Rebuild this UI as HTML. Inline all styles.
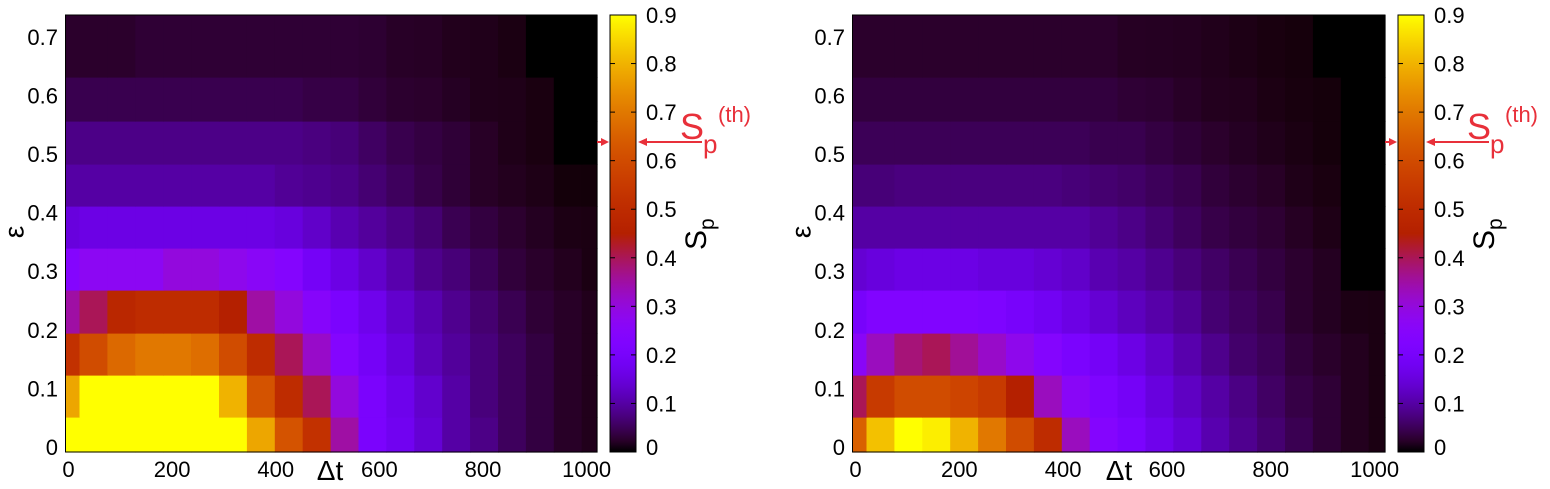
<!DOCTYPE html>
<html><head><meta charset="utf-8"><style>
html,body{margin:0;padding:0;background:#fff;width:1550px;height:489px;overflow:hidden}
svg text{font-family:"Liberation Sans",sans-serif;fill:#000}
</style></head><body>
<svg id="s" width="1550" height="489" xmlns="http://www.w3.org/2000/svg">
<defs>
<linearGradient id="cb" x1="0" y1="1" x2="0" y2="0">
</linearGradient>
</defs>
</svg>
<script>
function col(v){var x=Math.max(0,Math.min(1,v/0.9));var r=Math.sqrt(x),g=x*x*x,b=Math.max(0,Math.sin(2*Math.PI*x));
return 'rgb('+Math.round(r*255)+','+Math.round(g*255)+','+Math.round(b*255)+')';}
var NS='http://www.w3.org/2000/svg',S=document.getElementById('s');
function el(t,a,txt){var e=document.createElementNS(NS,t);for(var k in a)e.setAttribute(k,a[k]);if(txt!=null)e.textContent=txt;S.appendChild(e);return e;}
var g=document.getElementById('cb');for(var i=0;i<=40;i++){var st=document.createElementNS(NS,'stop');st.setAttribute('offset',i/40);st.setAttribute('stop-color',col(0.9*i/40));g.appendChild(st);}
var rows=[452,417,375,333,290,248,206,164,121,77,15];
var L=[
[.9,.9,.9,.9,.9,.9,.9,.78,.62,.52,.35,.22,.2,.17,.13,.11,.08,.06,.04,.03],
[.78,.9,.9,.9,.9,.9,.8,.62,.5,.4,.3,.22,.19,.16,.13,.1,.08,.06,.04,.03],
[.52,.6,.67,.7,.7,.68,.6,.5,.4,.32,.24,.2,.17,.14,.12,.1,.08,.06,.04,.03],
[.35,.4,.48,.5,.5,.5,.45,.35,.3,.25,.21,.18,.15,.13,.11,.09,.07,.05,.04,.03],
[.24,.27,.27,.27,.3,.3,.28,.26,.24,.19,.16,.14,.12,.1,.09,.07,.05,.04,.03,.02],
[.15,.16,.16,.16,.16,.16,.16,.16,.15,.13,.11,.1,.09,.08,.06,.05,.04,.03,.02,.02],
[.1,.1,.1,.1,.1,.1,.1,.1,.09,.085,.08,.07,.06,.05,.04,.03,.025,.02,.01,.01],
[.08,.08,.08,.08,.08,.08,.08,.08,.08,.075,.07,.06,.05,.045,.04,.03,.02,.015,0,0],
[.045,.045,.045,.045,.045,.045,.045,.045,.045,.04,.04,.035,.03,.03,.025,.02,.02,.015,0,0],
[.025,.025,.025,.03,.03,.03,.03,.03,.03,.03,.03,.03,.025,.025,.02,.02,.015,0,0,0]];
var R=[
[.65,.82,.9,.88,.8,.7,.6,.5,.33,.24,.21,.18,.16,.13,.11,.09,.07,.05,.03,.02],
[.4,.55,.6,.6,.58,.55,.45,.33,.26,.22,.19,.16,.14,.12,.1,.08,.06,.05,.03,.02],
[.26,.33,.38,.4,.36,.32,.28,.24,.21,.19,.16,.14,.12,.1,.08,.07,.05,.04,.03,.02],
[.2,.23,.23,.23,.23,.22,.2,.18,.16,.14,.12,.11,.1,.08,.07,.06,.04,.03,.02,.02],
[.14,.15,.16,.16,.16,.15,.15,.14,.13,.11,.1,.09,.08,.07,.06,.05,.04,.03,0,0],
[.1,.1,.1,.1,.1,.1,.1,.1,.1,.09,.08,.07,.06,.05,.045,.04,.03,.02,0,0],
[.07,.07,.075,.075,.075,.075,.075,.075,.07,.065,.06,.055,.05,.04,.035,.03,.02,.015,0,0],
[.05,.05,.05,.05,.05,.05,.05,.05,.05,.045,.045,.04,.035,.03,.025,.02,.015,.01,0,0],
[.035,.035,.035,.035,.035,.035,.035,.035,.035,.035,.03,.03,.025,.02,.02,.015,.012,.01,0,0],
[.025,.025,.025,.025,.025,.025,.025,.025,.025,.025,.02,.02,.02,.018,.015,.012,.01,0,0,0]];
function fac(c){return c<=10?1:1-0.5*(c-10)/9;}
function plot(x0,x1,data,cbx,lx,dtx,spx,arrowTxtX){
 var xs=[x0,x0+14];for(var i=2;i<=20;i++)xs.push(Math.min(x1,x0+14+(i-1)*27.9));xs[20]=x1;
 for(var r=0;r<10;r++)for(var c=0;c<20;c++){
  el('rect',{x:xs[c],y:rows[r+1],width:xs[c+1]-xs[c]+0.6,height:rows[r]-rows[r+1]+0.6,fill:col(data[r][c]*fac(c))});}
 el('rect',{x:x0,y:15,width:x1-x0,height:437,fill:'none',stroke:'#000','stroke-width':1});
 var pxu=(x1-x0-3)/1020;
 for(var t=0;t<=1000;t+=200){el('text',{x:x0+3+t*pxu,y:477,'font-size':22,'text-anchor':'middle'},''+t);}
 var yl=['0','0.1','0.2','0.3','0.4','0.5','0.6','0.7'];
 for(var i=0;i<8;i++){var y=447-i*58.6;el('text',{x:lx,y:y+8,'font-size':22,'text-anchor':'end'},yl[i]);}
 el('text',{x:dtx,y:480,'font-size':28,'text-anchor':'middle'},'\u0394t');
 el('text',{x:0,y:0,'font-size':28,'text-anchor':'middle',transform:'translate('+(x0-42)+',232) rotate(-90)'},'\u03b5');
 el('rect',{x:cbx,y:15,width:26,height:437,fill:'url(#cb)',stroke:'#000','stroke-width':1});
 for(var i=0;i<=9;i++){var y=452-i*437/0.9*0.1;
  el('line',{x1:cbx,x2:cbx+5,y1:y,y2:y,stroke:'#000','stroke-width':1});
  el('line',{x1:cbx+21,x2:cbx+26,y1:y,y2:y,stroke:'#000','stroke-width':1});
  el('text',{x:cbx+36,y:Math.min(Math.max(y+8,22),455),'font-size':22},i==0?'0':'0.'+i);}
 el('text',{x:0,y:0,'font-size':30,transform:'translate('+spx+',250) rotate(-90)'},'S');
 el('text',{x:0,y:0,'font-size':21,transform:'translate('+(spx+8)+',230) rotate(-90)'},'p');
 var ay=142;
 el('line',{x1:cbx-13,x2:cbx-3,y1:ay,y2:ay,stroke:'#e8303a','stroke-width':2});
 el('path',{d:'M'+(cbx-1)+' '+ay+' l-8 -4 l0 8z',fill:'#e8303a'});
 el('line',{x1:cbx+30,x2:arrowTxtX+22,y1:ay,y2:ay,stroke:'#e8303a','stroke-width':2});
 el('path',{d:'M'+(cbx+28)+' '+ay+' l9 -4 l0 8z',fill:'#e8303a'});
 el('text',{x:arrowTxtX,y:139,'font-size':36,style:'fill:#e8303a'},'S');
 el('text',{x:arrowTxtX+23,y:153,'font-size':26,style:'fill:#e8303a'},'p');
 el('text',{x:arrowTxtX+38,y:122,'font-size':22,style:'fill:#e8303a'},'(th)');
}
plot(65.5,597,L,610,58,330,706,680);
plot(852.5,1385,R,1398,845,1119,1494,1467);
</script>
</body></html>
